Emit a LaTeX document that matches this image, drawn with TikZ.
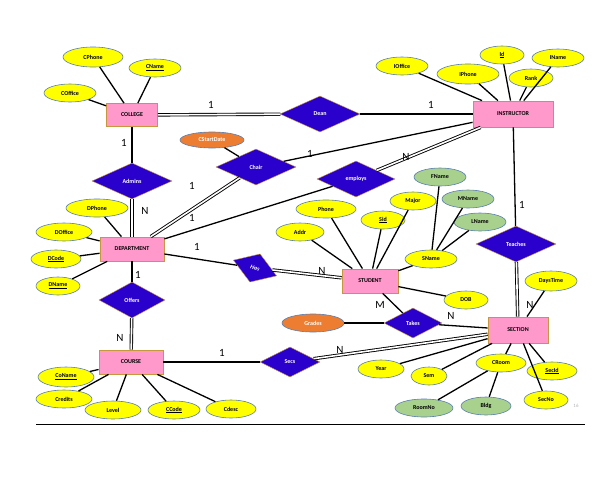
\documentclass[tikz,border=0pt]{standalone}
\usepackage{fontspec}
\setmainfont{Carlito}
\usetikzlibrary{shapes.geometric}
\definecolor{ent}{HTML}{FF99CC}
\definecolor{entb}{HTML}{C8963C}
\definecolor{rel}{HTML}{2A00CC}
\definecolor{yel}{HTML}{FFFF00}
\definecolor{eb}{HTML}{5A7FB0}
\definecolor{grn}{HTML}{A9D18E}
\definecolor{org}{HTML}{ED7D31}
\tikzset{
 ent/.style={draw=entb,fill=ent,line width=0.8pt,inner sep=0,font=\fontsize{6}{7}\selectfont\bfseries},
 rel/.style={diamond,draw=entb,fill=rel,line width=0.4pt,inner sep=0,text=white,font=\fontsize{6}{7}\selectfont\bfseries},
 att/.style={ellipse,draw=eb,fill=yel,line width=0.6pt,inner sep=0,font=\fontsize{6}{7}\selectfont\bfseries},
 gat/.style={att,fill=grn},
 oat/.style={att,fill=org,text=white},
 ln/.style={line width=1.3pt},
 dl/.style={double,line width=0.9pt,double distance=1.6pt},
 lab/.style={font=\fontsize{11}{12}\selectfont}
}
\newcommand\ul[1]{\underline{#1}}
\begin{document}
\begin{tikzpicture}[x=1pt,y=-1pt]
\useasboundingbox (0,0) rectangle (610,482);
% entities
\node[ent,minimum width=51,minimum height=23] (college) at (132,115) {COLLEGE};
\node[ent,minimum width=80,minimum height=26] (instr) at (513,114) {INSTRUCTOR};
\node[ent,minimum width=64,minimum height=24] (dept) at (132,249) {DEPARTMENT};
\node[ent,minimum width=56,minimum height=24] (stud) at (370,281) {STUDENT};
\node[ent,minimum width=64,minimum height=24] (course) at (131,362) {COURSE};
\node[ent,minimum width=60,minimum height=26] (sect) at (518,330) {SECTION};
% relations
\node[rel,minimum width=80,minimum height=36] (dean) at (320,114) {Dean};
\node[rel,minimum width=80,minimum height=36] (chair) at (256,167) {Chair};
\node[rel,minimum width=78,minimum height=36] (employs) at (356,179) {employs};
\node[rel,minimum width=80,minimum height=36] (admins) at (132,181) {Admins};
\node[rel,minimum width=46,minimum height=30,rotate=-20] (has) at (255,268) {\itshape Has};
\node[rel,minimum width=80,minimum height=36] (teaches) at (516,244) {Teaches};
\node[rel,minimum width=66,minimum height=36] (offers) at (132,300) {Offers};
\node[rel,minimum width=58,minimum height=30] (takes) at (413,323) {Takes};
\node[rel,minimum width=60,minimum height=30] (secs) at (290,362) {Secs};
% attributes
\node[att,minimum width=60,minimum height=20] (cphone) at (93,57) {CPhone};
\node[att,minimum width=52,minimum height=18] (cname) at (155,68) {\ul{CName}};
\node[att,minimum width=52,minimum height=18] (coffice) at (70,93) {COffice};
\node[att,minimum width=52,minimum height=18] (ioffice) at (402,66) {IOffice};
\node[att,minimum width=62,minimum height=20] (iphone) at (468,74) {IPhone};
\node[att,minimum width=44,minimum height=18] (id) at (502,55) {\ul{Id}};
\node[att,minimum width=52,minimum height=18] (iname) at (558,58) {IName};
\node[att,minimum width=44,minimum height=18] (rank) at (531,78) {Rank};
\node[oat,minimum width=64,minimum height=16] (csd) at (212,140) {CStartDate};
\node[att,minimum width=62,minimum height=18] (dphone) at (97,208) {DPhone};
\node[att,minimum width=56,minimum height=18] (doffice) at (64,232) {DOffice};
\node[att,minimum width=50,minimum height=18] (dcode) at (56,259) {\ul{DCode}};
\node[att,minimum width=44,minimum height=18] (dname) at (58,286) {\ul{DName}};
\node[att,minimum width=60,minimum height=18] (phone) at (326,209) {Phone};
\node[att,minimum width=48,minimum height=18] (addr) at (300,232) {Addr};
\node[att,minimum width=44,minimum height=18] (sid) at (383,220) {\ul{Sid}};
\node[att,minimum width=46,minimum height=18] (major) at (413,201) {Major};
\node[gat,minimum width=52,minimum height=18] (fname) at (440,177) {FName};
\node[gat,minimum width=52,minimum height=18] (mname) at (468,199) {MName};
\node[gat,minimum width=52,minimum height=18] (lname) at (480,222) {LName};
\node[att,minimum width=52,minimum height=18] (sname) at (431,259) {SName};
\node[att,minimum width=44,minimum height=18] (dob) at (466,300) {DOB};
\node[att,minimum width=52,minimum height=20] (days) at (551,281) {DaysTime};
\node[oat,minimum width=62,minimum height=18] (grades) at (313,323) {Grades};
\node[att,minimum width=56,minimum height=20] (coname) at (66,377) {\ul{CoName}};
\node[att,minimum width=56,minimum height=18] (credits) at (64,399) {Credits};
\node[att,minimum width=56,minimum height=18] (level) at (113,410) {Level};
\node[att,minimum width=52,minimum height=18] (ccode) at (174,410) {\ul{CCode}};
\node[att,minimum width=50,minimum height=18] (cdesc) at (231,409) {Cdesc};
\node[att,minimum width=46,minimum height=18] (year) at (381,369) {Year};
\node[att,minimum width=36,minimum height=18] (sem) at (429,376) {Sem};
\node[att,minimum width=50,minimum height=18] (croom) at (501,363) {CRoom};
\node[att,minimum width=50,minimum height=18] (secid) at (552,371) {\ul{SecId}};
\node[att,minimum width=44,minimum height=18] (secno) at (546,400) {SecNo};
\node[gat,minimum width=58,minimum height=18] (roomno) at (424,408) {RoomNo};
\node[gat,minimum width=50,minimum height=18] (bldg) at (486,406) {Bldg};
\node[text=gray!60,font=\fontsize{5}{6}\selectfont] (pg) at (576,406) {16};
\coordinate (la) at (36,424); \coordinate (lb) at (585,424);
\draw[line width=1pt] (la) -- (lb);
% attribute edges
\foreach \a/\b in {cphone/college,cname/college,coffice/college,ioffice/instr,iphone/instr,id/instr,iname/instr,rank/instr,csd/chair,dphone/dept,doffice/dept,dcode/dept,dname/dept,phone/stud,addr/stud,sid/stud,major/stud,sname/stud,dob/stud,fname/sname,mname/sname,lname/sname,days/sect,grades/takes,coname/course,credits/course,level/course,ccode/course,cdesc/course,year/sect,sem/sect,croom/sect,secid/sect,secno/sect,roomno/croom,bldg/croom}
  \draw[ln] (\a) -- (\b);
% relationship edges
\draw[dl] (college) -- (dean);
\draw[ln] (dean) -- (instr);
\draw[ln] (college) -- (admins);
\draw[dl] (admins) -- (dept);
\draw[dl] (chair) -- (dept);
\draw[ln] (chair) -- (instr);
\draw[ln] (dept) -- (employs);
\draw[dl] (employs) -- (instr);
\draw[ln] (dept) -- (has);
\draw[dl] (has) -- (stud);
\draw[ln] (dept) -- (offers);
\draw[dl] (offers) -- (course);
\draw[ln] (instr) -- (teaches);
\draw[dl] (teaches) -- (sect);
\draw[ln] (stud) -- (takes);
\draw[ln] (takes) -- (sect);
\draw[ln] (course) -- (secs);
\draw[dl] (secs) -- (sect);
% cardinalities
\foreach \t/\x/\y in {1/211/105,1/431/105,1/124/143,N/145/211,1/192/186,1/192/218,1/310/154,N/406/157,1/197/247,N/322/271,1/138/275,N/120/338,M/380/305,N/451/316,1/522/205,N/530/305,1/222/353,N/340/350}
  \node[lab] at (\x,\y) {\t};
\end{tikzpicture}
\end{document}
